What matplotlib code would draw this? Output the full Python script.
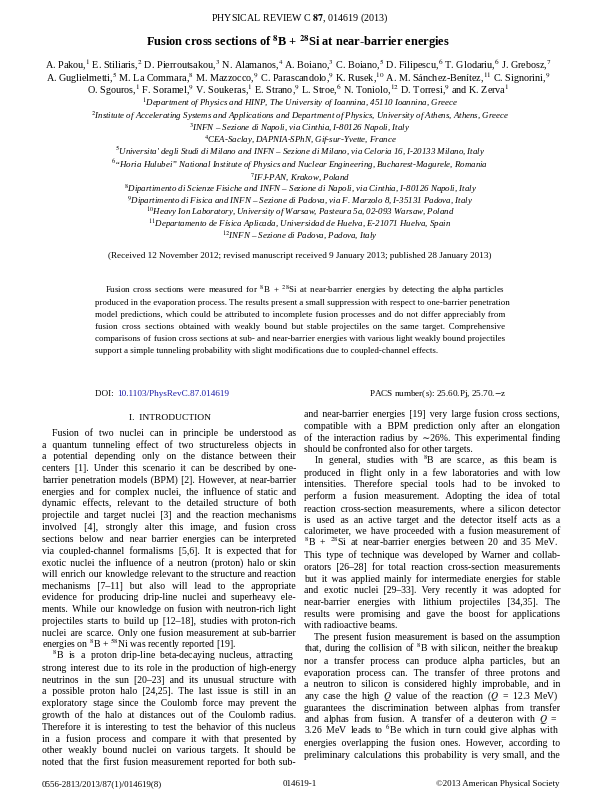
"""Recreate the first page of the PRC 87, 014619 article as a matplotlib figure."""
import matplotlib

matplotlib.use("Agg")
import matplotlib.pyplot as plt

plt.rcParams["font.family"] = ["Liberation Serif", "DejaVu Serif"]
plt.rcParams["mathtext.fontset"] = "stix"

W, H = 590, 792

HEADER = r"PHYSICAL REVIEW C $\mathbf{87}$, 014619 (2013)"
TITLE = r"Fusion cross sections of $^{\mathbf{8}}$B + $^{\mathbf{28}}$Si at near-barrier energies"

AUTHORS = [
    r"A. Pakou,$^{1}$ E. Stiliaris,$^{2}$ D. Pierroutsakou,$^{3}$ N. Alamanos,$^{4}$ A. Boiano,$^{3}$ C. Boiano,$^{5}$ D. Filipescu,$^{6}$ T. Glodariu,$^{6}$ J. Grebosz,$^{7}$",
    r"A. Guglielmetti,$^{5}$ M. La Commara,$^{8}$ M. Mazzocco,$^{9}$ C. Parascandolo,$^{9}$ K. Rusek,$^{10}$ A. M. Sánchez-Benítez,$^{11}$ C. Signorini,$^{9}$",
    r"O. Sgouros,$^{1}$ F. Soramel,$^{9}$ V. Soukeras,$^{1}$ E. Strano,$^{9}$ L. Stroe,$^{6}$ N. Toniolo,$^{12}$ D. Torresi,$^{9}$ and K. Zerva$^{1}$",
]

AFFILIATIONS = [
    r"$^{1}$Department of Physics and HINP, The University of Ioannina, 45110 Ioannina, Greece",
    r"$^{2}$Institute of Accelerating Systems and Applications and Department of Physics, University of Athens, Athens, Greece",
    r"$^{3}$INFN – Sezione di Napoli, via Cinthia, I-80126 Napoli, Italy",
    r"$^{4}$CEA-Saclay, DAPNIA-SPhN, Gif-sur-Yvette, France",
    r"$^{5}$Universita' degli Studi di Milano and INFN – Sezione di Milano, via Celoria 16, I-20133 Milano, Italy",
    r"$^{6}$“Horia Hulubei” National Institute of Physics and Nuclear Engineering, Bucharest-Magurele, Romania",
    r"$^{7}$IFJ-PAN, Krakow, Poland",
    r"$^{8}$Dipartimento di Scienze Fisiche and INFN – Sezione di Napoli, via Cinthia, I-80126 Napoli, Italy",
    r"$^{9}$Dipartimento di Fisica and INFN – Sezione di Padova, via F. Marzolo 8, I-35131 Padova, Italy",
    r"$^{10}$Heavy Ion Laboratory, University of Warsaw, Pasteura 5a, 02-093 Warsaw, Poland",
    r"$^{11}$Departamento de Física Aplicada, Universidad de Huelva, E-21071 Huelva, Spain",
    r"$^{12}$INFN – Sezione di Padova, Padova, Italy",
]
RECEIVED = "(Received 12 November 2012; revised manuscript received 9 January 2013; published 28 January 2013)"

# (text, is_last_line_of_paragraph)
ABSTRACT = [
    (r"Fusion cross sections were measured for $^{8}$B + $^{28}$Si at near-barrier energies by detecting the alpha particles", False),
    ("produced in the evaporation process. The results present a small suppression with respect to one-barrier penetration", False),
    ("model predictions, which could be attributed to incomplete fusion processes and do not differ appreciably from", False),
    ("fusion cross sections obtained with weakly bound but stable projectiles on the same target. Comprehensive", False),
    ("comparisons of fusion cross sections at sub- and near-barrier energies with various light weakly bound projectiles", False),
    ("support a simple tunneling probability with slight modifications due to coupled-channel effects.", True),
]

# (text, paragraph_start, paragraph_end)
LEFT_COL = [
    ("Fusion of two nuclei can in principle be understood as", True, False),
    ("a quantum tunneling effect of two structureless objects in", False, False),
    ("a potential depending only on the distance between their", False, False),
    ("centers [1]. Under this scenario it can be described by one-", False, False),
    ("barrier penetration models (BPM) [2]. However, at near-barrier", False, False),
    ("energies and for complex nuclei, the influence of static and", False, False),
    ("dynamic effects, relevant to the detailed structure of both", False, False),
    ("projectile and target nuclei [3] and the reaction mechanisms", False, False),
    ("involved [4], strongly alter this image, and fusion cross", False, False),
    ("sections below and near barrier energies can be interpreted", False, False),
    ("via coupled-channel formalisms [5,6]. It is expected that for", False, False),
    ("exotic nuclei the influence of a neutron (proton) halo or skin", False, False),
    ("will enrich our knowledge relevant to the structure and reaction", False, False),
    ("mechanisms [7–11] but also will lead to the appropriate", False, False),
    ("evidence for producing drip-line nuclei and superheavy ele-", False, False),
    ("ments. While our knowledge on fusion with neutron-rich light", False, False),
    ("projectiles starts to build up [12–18], studies with proton-rich", False, False),
    ("nuclei are scarce. Only one fusion measurement at sub-barrier", False, False),
    (r"energies on $^{8}$B + $^{58}$Ni was recently reported [19].", False, True),
    (r"$^{8}$B is a proton drip-line beta-decaying nucleus, attracting", True, False),
    ("strong interest due to its role in the production of high-energy", False, False),
    ("neutrinos in the sun [20–23] and its unusual structure with", False, False),
    ("a possible proton halo [24,25]. The last issue is still in an", False, False),
    ("exploratory stage since the Coulomb force may prevent the", False, False),
    ("growth of the halo at distances out of the Coulomb radius.", False, False),
    ("Therefore it is interesting to test the behavior of this nucleus", False, False),
    ("in a fusion process and compare it with that presented by", False, False),
    ("other weakly bound nuclei on various targets. It should be", False, False),
    ("noted that the first fusion measurement reported for both sub-", False, False),
]

RIGHT_COL = [
    ("and near-barrier energies [19] very large fusion cross sections,", False, False),
    ("compatible with a BPM prediction only after an elongation", False, False),
    ("of the interaction radius by ∼26%. This experimental finding", False, False),
    ("should be confronted also for other targets.", False, True),
    (r"In general, studies with $^{8}$B are scarce, as this beam is", True, False),
    ("produced in flight only in a few laboratories and with low", False, False),
    ("intensities. Therefore special tools had to be invoked to", False, False),
    ("perform a fusion measurement. Adopting the idea of total", False, False),
    ("reaction cross-section measurements, where a silicon detector", False, False),
    ("is used as an active target and the detector itself acts as a", False, False),
    ("calorimeter, we have proceeded with a fusion measurement of", False, False),
    (r"$^{8}$B + $^{28}$Si at near-barrier energies between 20 and 35 MeV.", False, False),
    ("This type of technique was developed by Warner and collab-", False, False),
    ("orators [26–28] for total reaction cross-section measurements", False, False),
    ("but it was applied mainly for intermediate energies for stable", False, False),
    ("and exotic nuclei [29–33]. Very recently it was adopted for", False, False),
    ("near-barrier energies with lithium projectiles [34,35]. The", False, False),
    ("results were promising and gave the boost for applications", False, False),
    ("with radioactive beams.", False, True),
    ("The present fusion measurement is based on the assumption", True, False),
    (r"that, during the collision of $^{8}$B with silicon, neither the breakup", False, False),
    ("nor a transfer process can produce alpha particles, but an", False, False),
    ("evaporation process can. The transfer of three protons and", False, False),
    ("a neutron to silicon is considered highly improbable, and in", False, False),
    (r"any case the high $Q$ value of the reaction ($Q$ = 12.3 MeV)", False, False),
    ("guarantees the discrimination between alphas from transfer", False, False),
    (r"and alphas from fusion. A transfer of a deuteron with $Q$ =", False, False),
    (r"3.26 MeV leads to $^{6}$Be which in turn could give alphas with", False, False),
    ("energies overlapping the fusion ones. However, according to", False, False),
    ("preliminary calculations this probability is very small, and the", False, False),
]

FOOT_LEFT = "0556-2813/2013/87(1)/014619(8)"
FOOT_MID = "014619-1"
FOOT_RIGHT = "©2013 American Physical Society"

HAIR = "\u200a"

fig = plt.figure(figsize=(W / 100, H / 100), dpi=100)
renderer = fig.canvas.get_renderer()


def px(x, y):
    return x / W, 1 - y / H


def put(x, y, s, size=7.0, ha="left", **kw):
    return fig.text(*px(x, y), s, fontsize=size, ha=ha, va="baseline", **kw)


def width_of(t):
    return t.get_window_extent(renderer).width


def hair_width(size):
    a = put(0, 0, "a" + HAIR + "a", size)
    b = put(0, 0, "aa", size)
    w = width_of(a) - width_of(b)
    a.remove()
    b.remove()
    return w


def split_words(s):
    # keep mathtext chunks intact
    merged, buf = [], ""
    for w in s.split(" "):
        buf = w if not buf else buf + " " + w
        if buf.count("$") % 2 == 0:
            merged.append(buf)
            buf = ""
    return merged


def justify(x0, x1, y, s, size, last=False, indent=0):
    """One text per line; stretch the gaps with hair spaces to fill x0..x1."""
    x0 = x0 + indent
    t = put(x0, y, s, size)
    if last:
        return
    words = split_words(s)
    gaps = len(words) - 1
    hw = hair_width(size)
    extra = x1 - x0 - width_of(t)
    if gaps < 1 or extra <= 0 or not (0.2 < hw < 4):
        return
    k = int(round(extra / hw))
    base, rem = divmod(k, gaps)
    out = words[0]
    for i, w in enumerate(words[1:]):
        out += " " + HAIR * (base + (1 if i < rem else 0)) + w
    t.set_text(out)


put(300, 21, HEADER, 7.2, ha="center")
put(298, 46, TITLE, 8.9, ha="center", fontweight="bold")

for i, line in enumerate(AUTHORS):
    put(298, 69 + i * 12.6, line, 7.3, ha="center")
for i, line in enumerate(AFFILIATIONS):
    put(300, 107 + i * 12.1, line, 6.4, ha="center", style="italic")
put(300, 258, RECEIVED, 6.6, ha="center")

for i, (line, last) in enumerate(ABSTRACT):
    justify(95, 505, 293 + i * 12.0, line, 6.4, last=last, indent=10 if i == 0 else 0)

put(95, 396, "DOI: ", 6.6)
put(117, 396, "10.1103/PhysRevC.87.014619", 6.6, color="#1a1aa6")
put(506, 396, r"PACS number(s): 25.60.Pj, 25.70.$-$z", 6.6, ha="right")

put(170, 420, "I.  INTRODUCTION", 6.8, ha="center")

for i, (line, start, end) in enumerate(LEFT_COL):
    justify(42, 296, 436 + i * 11.75, line, 7.0, last=end, indent=10 if start else 0)
for i, (line, start, end) in enumerate(RIGHT_COL):
    justify(304, 560, 417 + i * 11.75, line, 7.0, last=end, indent=10 if start else 0)

put(42, 786, FOOT_LEFT, 6.4)
put(300, 786, FOOT_MID, 6.4, ha="center")
put(560, 786, FOOT_RIGHT, 6.4, ha="right")

fig.savefig("out.png", dpi=100)
